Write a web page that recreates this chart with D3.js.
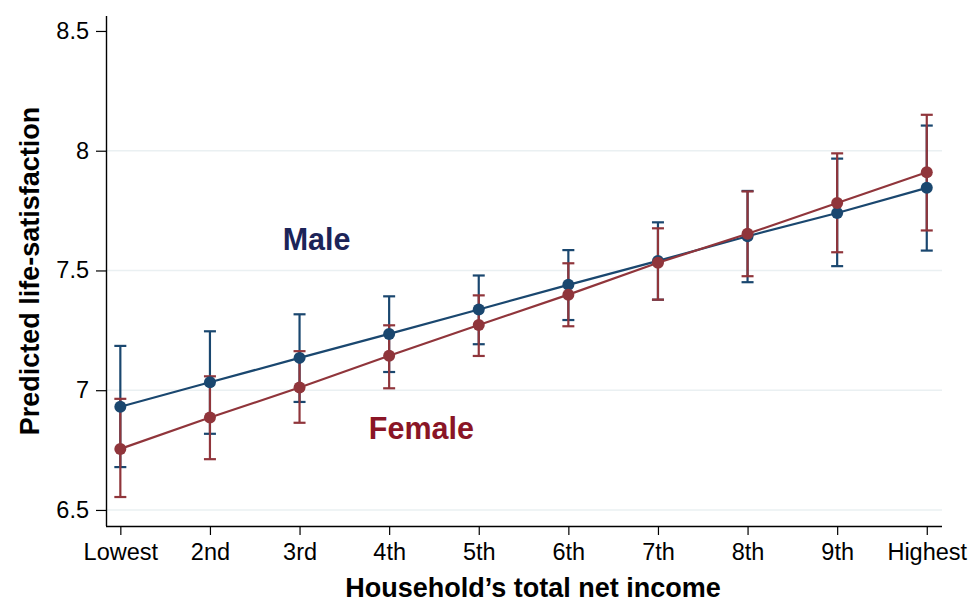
<!DOCTYPE html>
<html lang="en">
<head>
    <meta charset="UTF-8">
    <title>Predicted life-satisfaction by income</title>
    <style>
        body { margin: 0; background: #fff; }
        svg { display: block; font-family: "Liberation Sans", Arial, sans-serif; }
        .tick-label { font-size: 23.5px; fill: #000; }
        .axis-title { font-size: 27px; font-weight: bold; fill: #000; }
        .series-label { font-size: 30.5px; font-weight: bold; }
    </style>
</head>
<body>
    <script src="https://d3js.org/d3.v7.min.js"></script>
    <script>
        const categories = ["Lowest", "2nd", "3rd", "4th", "5th", "6th", "7th", "8th", "9th", "Highest"];
        const yTicks = [6.5, 7, 7.5, 8, 8.5];
        const yTickLabels = ["6.5", "7", "7.5", "8", "8.5"];
        const gridValues = [6.5, 7, 7.5, 8];

        const male = [6.931, 7.033, 7.135, 7.235, 7.337, 7.440, 7.540, 7.643, 7.740, 7.845];
        const maleLo = [6.679, 6.818, 6.951, 7.076, 7.192, 7.293, 7.378, 7.451, 7.518, 7.583];
        const maleHi = [7.185, 7.246, 7.317, 7.392, 7.479, 7.585, 7.701, 7.832, 7.967, 8.105];

        const female = [6.755, 6.886, 7.011, 7.144, 7.272, 7.399, 7.532, 7.653, 7.782, 7.910];
        const femaleLo = [6.554, 6.712, 6.864, 7.008, 7.143, 7.267, 7.378, 7.476, 7.576, 7.667];
        const femaleHi = [6.964, 7.058, 7.163, 7.271, 7.396, 7.530, 7.676, 7.830, 7.989, 8.150];

        const width = 977, height = 613;
        const plotLeft = 106, plotRight = 942, plotTop = 16, plotBottom = 526;

        const svg = d3.select("body").append("svg")
            .attr("width", width)
            .attr("height", height);

        // categories sit at 1..10 on a linear scale with Stata-like padding
        const x = d3.scaleLinear().domain([0.84, 10.17]).range([plotLeft, plotRight]);
        const y = d3.scaleLinear().domain([6.433, 8.5625]).range([plotBottom, plotTop]);

        // gridlines
        svg.append("g").selectAll("line")
            .data(gridValues)
            .enter().append("line")
            .attr("x1", plotLeft).attr("x2", plotRight)
            .attr("y1", d => y(d)).attr("y2", d => y(d))
            .attr("stroke", "#eaf0f2")
            .attr("stroke-width", 1.6);

        // y axis
        const yAxis = d3.axisLeft(y)
            .tickValues(yTicks)
            .tickFormat((d, i) => yTickLabels[i])
            .tickSize(10)
            .tickPadding(7);
        const gy = svg.append("g")
            .attr("transform", `translate(${plotLeft},0)`)
            .call(yAxis);
        gy.select(".domain").attr("d", `M0.5,${plotTop}V${plotBottom}`).attr("stroke", "#000").attr("stroke-width", 1.4);
        gy.selectAll(".tick line").attr("stroke", "#000").attr("stroke-width", 1.2);
        gy.selectAll(".tick text").attr("class", "tick-label");
        gy.attr("font-size", null).attr("font-family", null);

        // x axis
        const xAxis = d3.axisBottom(x)
            .tickValues(d3.range(1, categories.length + 1))
            .tickFormat(d => categories[d - 1])
            .tickSize(9)
            .tickPadding(8);
        const gx = svg.append("g")
            .attr("transform", `translate(0,${plotBottom})`)
            .call(xAxis);
        gx.select(".domain").attr("d", `M${plotLeft},0.5H${plotRight}`).attr("stroke", "#000").attr("stroke-width", 1.4);
        gx.selectAll(".tick line").attr("stroke", "#000").attr("stroke-width", 1.2);
        gx.selectAll(".tick text").attr("class", "tick-label");
        gx.attr("font-size", null).attr("font-family", null);

        const series = [
            { name: "Male", mean: male, lo: maleLo, hi: maleHi, color: "#1a476f" },
            { name: "Female", mean: female, lo: femaleLo, hi: femaleHi, color: "#90353b" }
        ];

        const capHalf = 6;

        // confidence interval caps
        series.forEach(s => {
            const g = svg.append("g").attr("stroke", s.color).attr("stroke-width", 2.2).attr("fill", "none");
            s.mean.forEach((m, i) => {
                const cx = x(i + 1);
                g.append("line").attr("x1", cx).attr("x2", cx).attr("y1", y(s.lo[i])).attr("y2", y(s.hi[i]));
                g.append("line").attr("x1", cx - capHalf).attr("x2", cx + capHalf).attr("y1", y(s.lo[i])).attr("y2", y(s.lo[i]));
                g.append("line").attr("x1", cx - capHalf).attr("x2", cx + capHalf).attr("y1", y(s.hi[i])).attr("y2", y(s.hi[i]));
            });
        });

        // connected lines with markers
        const line = d3.line().x((d, i) => x(i + 1)).y(d => y(d));
        series.forEach(s => {
            svg.append("path")
                .datum(s.mean)
                .attr("d", line)
                .attr("fill", "none")
                .attr("stroke", s.color)
                .attr("stroke-width", 2.2);
            svg.append("g").selectAll("circle")
                .data(s.mean)
                .enter().append("circle")
                .attr("cx", (d, i) => x(i + 1))
                .attr("cy", d => y(d))
                .attr("r", 6)
                .attr("fill", s.color);
        });

        // series labels placed in data coordinates
        const labelNames = ["Male", "Female"];
        const labelX = [3.19, 4.36];
        const labelY = [7.585, 6.795];
        const labelColors = ["#1c2458", "#8a1526"];
        svg.append("g").selectAll("text")
            .data(labelNames)
            .enter().append("text")
            .attr("class", "series-label")
            .attr("x", (d, i) => x(labelX[i]))
            .attr("y", (d, i) => y(labelY[i]))
            .attr("text-anchor", "middle")
            .attr("fill", (d, i) => labelColors[i])
            .text(d => d);

        // axis titles
        svg.append("text")
            .attr("class", "axis-title")
            .attr("x", 533)
            .attr("y", 597)
            .attr("text-anchor", "middle")
            .text("Household\u2019s total net income");

        svg.append("text")
            .attr("class", "axis-title")
            .attr("transform", `translate(39,${(plotTop + plotBottom) / 2}) rotate(-90)`)
            .attr("text-anchor", "middle")
            .text("Predicted life-satisfaction");
    </script>
</body>
</html>
